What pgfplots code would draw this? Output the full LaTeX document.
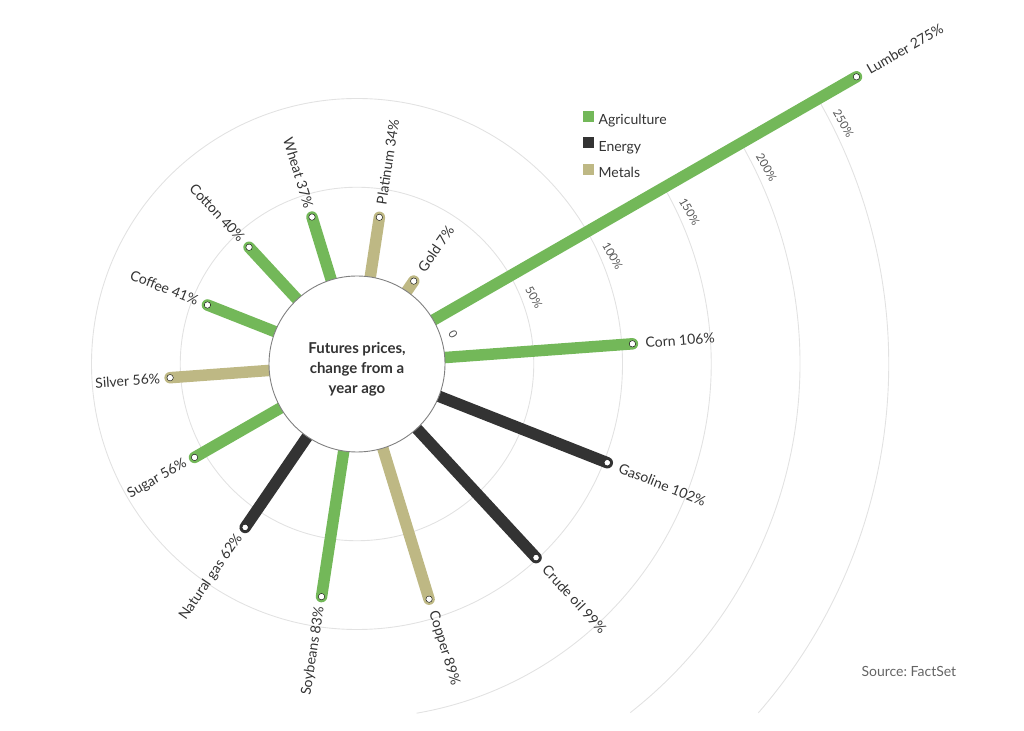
\documentclass[border=0pt]{standalone}
\usepackage{pgfplots}
\pgfplotsset{compat=1.18}
\usepackage{fontspec}
\setmainfont{Lato}
\definecolor{agri}{RGB}{115,184,89}
\definecolor{energy}{RGB}{51,51,51}
\definecolor{metals}{RGB}{190,184,132}
\definecolor{gridc}{RGB}{226,226,226}
\definecolor{txt}{RGB}{51,51,51}
\definecolor{ticktxt}{RGB}{85,85,85}
\definecolor{srctxt}{RGB}{100,100,100}

\pgfplotsset{
  radbar/.style={no markers, line width=11.5pt, line cap=round,
    empty line=jump, forget plot},
  radend/.style={
    only marks, mark=*, mark size=3.2pt,
    mark options={fill=white, draw=none}, forget plot,
    point meta=explicit symbolic,
    visualization depends on={\thisrow{rot}\as\myrot},
    nodes near coords,
    nodes near coords style={rotate=\myrot,
      font=\fontsize{14}{16}\selectfont, text=txt,
      inner xsep=10pt, inner ysep=0pt}},
  table/polar xy/.style={x expr={(88+1.775*\thisrow{val})*cos(\thisrow{ang})},
    y expr={(88+1.775*\thisrow{val})*sin(\thisrow{ang})}},
}

\begin{document}
\begin{tikzpicture}
\begin{axis}[
  x=1pt, y=1pt, scale only axis,
  xmin=-357, xmax=667, ymin=-349, ymax=364,
  enlargelimits=false, hide axis, clip=false,
  legend style={at={(axis cs:226,253)}, anchor=north west, draw=none,
    fill=none, inner sep=0pt, row sep=9.5pt, column sep=5pt,
    font=\fontsize{14}{16}\selectfont, text=txt,
    nodes={inner sep=0pt, text height=10pt, text depth=3pt}},
  legend cell align=left,
]
% grid circles and arcs
\draw[gridc, line width=0.9pt] (axis cs:0,0) circle[radius=176.75pt];
\draw[gridc, line width=0.9pt] (axis cs:0,0) circle[radius=265.5pt];
\draw[gridc, line width=0.9pt] (axis cs:0,0) ++(29.9:354.25pt) arc[start angle=29.9, end angle=-80.3, radius=354.25pt];
\draw[gridc, line width=0.9pt] (axis cs:0,0) ++(29.9:443pt) arc[start angle=29.9, end angle=-51.9, radius=443pt];
\draw[gridc, line width=0.9pt] (axis cs:0,0) ++(29.9:531.75pt) arc[start angle=29.9, end angle=-41.0, radius=531.75pt];

% bars: angle (deg) and change from a year ago (%), each a segment from 0 % to its value
\addplot[radbar, draw=agri] table[polar xy] {
ang val
29.90 0
29.90 275

4.19 0
4.19 106

-98.67 0
-98.67 83

-150.10 0
-150.10 56

158.47 0
158.47 41

132.76 0
132.76 40

107.04 0
107.04 37
};
\addplot[radbar, draw=energy] table[polar xy] {
ang val
-21.53 0
-21.53 102

-47.24 0
-47.24 99

-124.39 0
-124.39 62
};
\addplot[radbar, draw=metals] table[polar xy] {
ang val
-72.96 0
-72.96 89

-175.81 0
-175.81 56

81.33 0
81.33 34

55.61 0
55.61 7
};

% inner circle
\draw[fill=white, draw=black!50, line width=0.9pt] (axis cs:0,0) circle[radius=88pt];
\node[align=center, font=\bfseries\fontsize{15}{20}\selectfont, text=txt]
  at (axis cs:0,-5) {Futures prices,\\change from a\\year ago};

% end points + labels (right-hand side: text runs outward)
\addplot[radend, nodes near coords style={anchor=west, inner xsep=13pt}]
  table[col sep=comma, polar xy, meta=lab] {
ang,val,lab,rot
29.90,275,Lumber 275\%,29.90
4.19,106,Corn 106\%,4.19
-21.53,102,Gasoline 102\%,-21.53
-47.24,99,Crude oil 99\%,-47.24
-72.96,89,Copper 89\%,-72.96
81.33,34,Platinum 34\%,81.33
55.61,7,Gold 7\%,55.61
};
% end points + labels (left-hand side: text ends at the bar)
\addplot[radend, nodes near coords style={anchor=east, inner xsep=10pt}]
  table[col sep=comma, polar xy, meta=lab] {
ang,val,lab,rot
-98.67,83,Soybeans 83\%,81.33
-124.39,62,Natural gas 62\%,55.61
-150.10,56,Sugar 56\%,29.90
-175.81,56,Silver 56\%,4.19
158.47,41,Coffee 41\%,-21.53
132.76,40,Cotton 40\%,-47.24
107.04,37,Wheat 37\%,-72.96
};

% radial scale labels along the Lumber bar
\addplot[draw=none, no markers, forget plot, point meta=explicit symbolic,
  nodes near coords,
  nodes near coords style={rotate=-60.1, anchor=south west,
    font=\fontsize{11.5}{12}\selectfont, text=ticktxt,
    inner xsep=19pt, inner ysep=5.5pt}]
  table[x expr={(88+1.775*\thisrow{val})*cos(29.9)},
        y expr={(88+1.775*\thisrow{val})*sin(29.9)}, meta=lab] {
val lab
0 0
50 50\%
100 100\%
150 150\%
200 200\%
250 250\%
};

% legend
\addlegendimage{legend image code/.code={\fill[agri] (0pt,0pt) rectangle (10pt,10pt);}}
\addlegendentry{Agriculture}
\addlegendimage{legend image code/.code={\fill[energy] (0pt,0pt) rectangle (10pt,10pt);}}
\addlegendentry{Energy}
\addlegendimage{legend image code/.code={\fill[metals] (0pt,0pt) rectangle (10pt,10pt);}}
\addlegendentry{Metals}

\node[anchor=base west, font=\fontsize{14}{16}\selectfont, text=srctxt]
  at (axis cs:501,-312) {Source:\ FactSet};
\end{axis}
\pgfresetboundingbox
\path (current axis.south west) ++(0pt,-17pt) rectangle (current axis.north east);
\end{tikzpicture}
\end{document}
